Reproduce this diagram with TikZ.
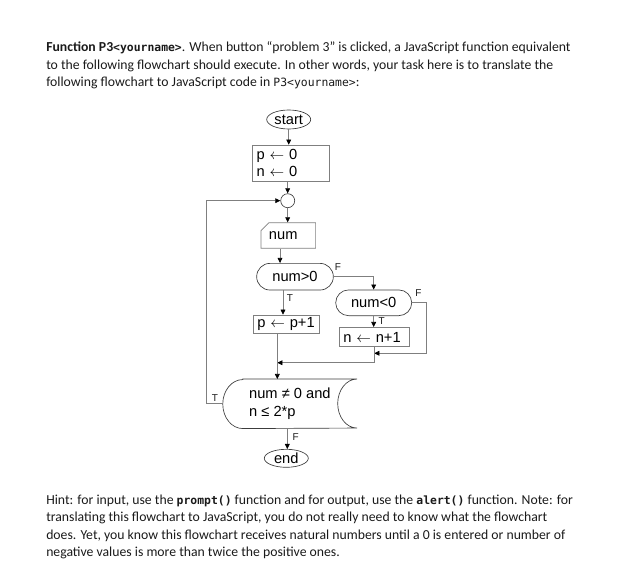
\documentclass[tikz,border=0pt]{standalone}
\usepackage{fontspec}
\setmainfont{Carlito}
\setmonofont[Scale=0.83]{DejaVu Sans Mono}
\newfontfamily\chartfont{Liberation Sans}
\usepackage{xcolor}
\definecolor{ink}{HTML}{1A1A1A}
\definecolor{wire}{HTML}{7F7F7F}
\usetikzlibrary{arrows.meta, positioning, shapes.misc, shapes.geometric, calc}
\tikzset{
  >={Triangle[length=3.8pt, width=3.6pt, color=black]},
  txt/.style={anchor=base west, inner sep=0pt, text=ink, font=\fontsize{10.3}{13}\selectfont},
  term/.style={ellipse, draw=ink!85, inner sep=0pt, line width=0.5pt,
    font=\chartfont\fontsize{11}{12.5}\selectfont},
  proc/.style={rectangle, draw=wire, inner xsep=3pt, inner ysep=0pt, align=left, line width=0.5pt,
    font=\chartfont\fontsize{11}{12.5}\selectfont},
  test/.style={rounded rectangle, draw=ink!85, inner sep=0pt, line width=0.5pt,
    font=\chartfont\fontsize{11}{12.5}\selectfont},
  flow/.style={->, line width=0.5pt, color=wire},
  wire/.style={line width=0.5pt, color=wire},
  tag/.style={inner sep=0pt, font=\chartfont\fontsize{7.5}{8}\selectfont, text=ink},
}
\begin{document}
\begin{tikzpicture}[x=0.75pt, y=-0.75pt]
  \useasboundingbox (0,0) rectangle (635,574);
  % task text
  \node[txt] (t1) at (46,52) {\textbf{Function P3\texttt{<yourname>}}. When button “problem 3” is clicked, a JavaScript function equivalent};
  \node[txt] (t2) at (46,69.5) {to the following flowchart should execute. In other words, your task here is to translate the};
  \node[txt] (t3) at (46,87) {following flowchart to JavaScript code in \texttt{P3<yourname>}:};
  % flowchart nodes
  \node[term, minimum width=33pt, minimum height=14.25pt] (start) at (288.7,119.5) {start};
  \node[proc, text width=51.5pt, minimum height=27pt] (init) at (291,163) {p $\leftarrow$ 0\\n $\leftarrow$ 0};
  \node[circle, draw=ink!85, line width=0.5pt, minimum size=10.5pt, inner sep=0pt] (jn) at (287.7,200.7) {};
  \node[proc, chamfered rectangle, chamfered rectangle corners=north west,
    chamfered rectangle xsep=3pt, chamfered rectangle ysep=3pt,
    text width=29pt, minimum height=19.2pt] (num) at (288.3,235.5) {num};
  \node[test, minimum width=57.5pt, minimum height=20pt] (gtz) at (295,276.7) {num>0};
  \node[test, minimum width=57pt, minimum height=19.3pt] (ltz) at (373.7,302.8) {num<0};
  \node[proc, text width=43.5pt, minimum height=13.75pt] (pinc) at (286.3,324.2) {p $\leftarrow$ p+1};
  \node[proc, text width=46.5pt, minimum height=14.5pt] (ninc) at (374.3,337) {n $\leftarrow$ n+1};
  \node[inner sep=0pt, align=left, minimum width=100.3pt, minimum height=36.75pt,
    font=\chartfont\fontsize{11}{13.8}\selectfont] (cond) at (289.9,403.8) {num ≠ 0 and\\n ≤ 2*p};
  \draw[line width=0.5pt, draw=ink!85] ($(cond.north west)+(20,0)$) -- (cond.north east)
    arc[start angle=90, end angle=270, x radius=14.5pt, y radius=18.375pt]
    -- ($(cond.south west)+(20,0)$)
    arc[start angle=270, end angle=90, x radius=15pt, y radius=18.375pt] -- cycle;
  \node[term, minimum width=33pt, minimum height=13.5pt] (end) at (286.3,458.3) {end};
  % branch labels
  \node[tag] (fa) at (338,266.7) {F};
  \node[tag] (ta) at (290,297.7) {T};
  \node[tag] (fb) at (418.3,292.7) {F};
  \node[tag] (tb) at (381.7,320.7) {T};
  \node[tag] (tc) at (215,398.3) {T};
  \node[tag] (fc) at (295.7,436.7) {F};
  % guide columns for the connectors
  \coordinate (c1) at (280,0);
  \coordinate (c2) at (283,0);
  \coordinate (c4) at (277.3,0);
  \coordinate (c5) at (206,0);
  \coordinate (c6) at (287.3,0);
  \coordinate (rt) at (426.7,0);
  \coordinate (mg1) at (374.3,353.3);
  \coordinate (mg2) at (374.3,362.7);
  % connectors
  \draw[flow] (start.south) -- (start.south |- init.north);
  \draw[flow] (init.south -| jn) -- (jn.north);
  \draw[flow] (jn.south) -- (jn.south |- num.north);
  \draw[flow] (num.south -| c1) -- (gtz.north -| c1);
  \draw[flow] (gtz.south -| c2) -- (pinc.north -| c2);
  \draw[flow] (gtz.east) -| (ltz.north);
  \draw[flow] (ltz.south) -- (ltz.south |- ninc.north);
  \draw[flow] (ltz.east) -- (ltz.east -| rt) |- (mg1);
  \draw[wire] (ninc.south) -- (mg2);
  \draw[flow] (mg2) -- (mg2 -| c4);
  \draw[flow] (pinc.south -| c4) -- (cond.north -| c4);
  \draw[flow] (cond.west) -- (cond.west -| c5) |- (jn.west);
  \draw[flow] (cond.south -| c6) -- (end.north -| c6);
  % hint text
  \node[txt] (h1) at (46,504) {Hint: for input, use the \texttt{\textbf{prompt()}} function and for output, use the \texttt{\textbf{alert()}} function. Note: for};
  \node[txt] (h2) at (46,521.5) {translating this flowchart to JavaScript, you do not really need to know what the flowchart};
  \node[txt] (h3) at (46,539) {does. Yet, you know this flowchart receives natural numbers until a 0 is entered or number of};
  \node[txt] (h4) at (46,556.5) {negative values is more than twice the positive ones.};
\end{tikzpicture}
\end{document}
